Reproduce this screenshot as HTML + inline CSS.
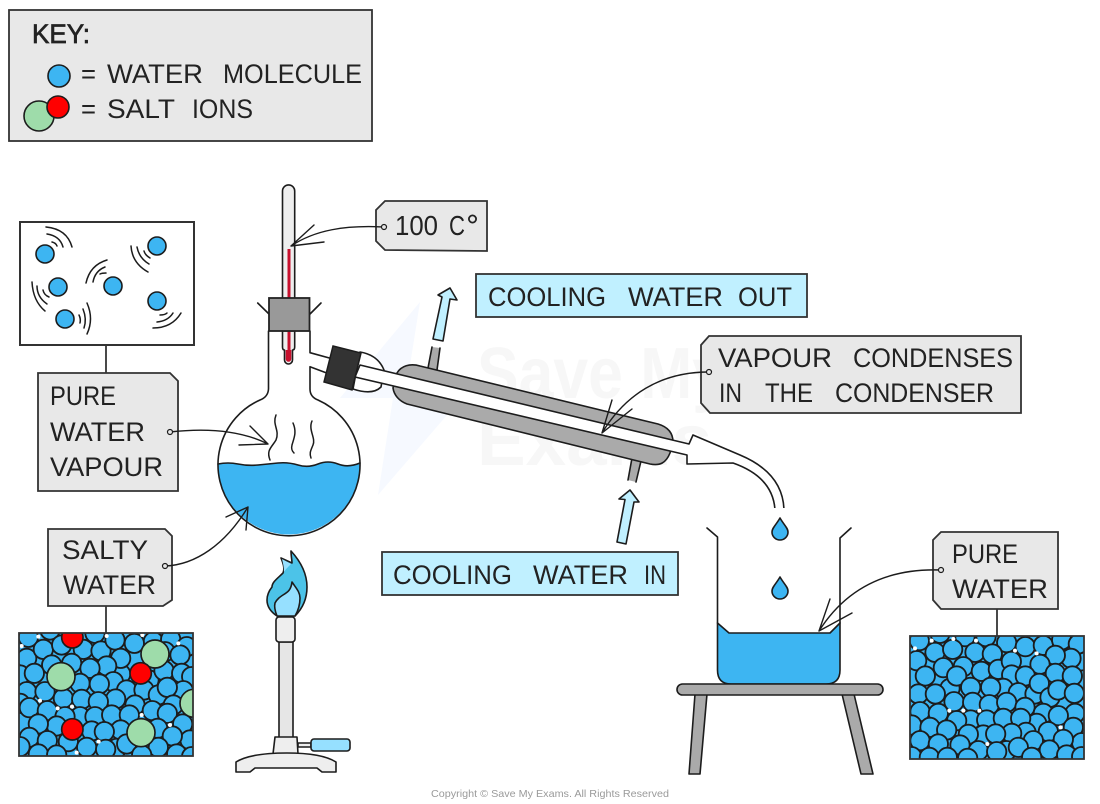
<!DOCTYPE html>
<html><head><meta charset="utf-8"><style>
html,body{margin:0;padding:0;background:#fff}
svg{display:block}
text{font-family:"Liberation Sans",sans-serif;font-size:27px;fill:#222}
.b{fill:#3db5f2;stroke:#1c1c1c;stroke-width:5.5;r:29px}
.s{stroke:#1c1c1c;stroke-width:1.6;fill:none;stroke-linejoin:round;stroke-linecap:round}
.f{stroke:#1c1c1c;stroke-width:1.6;stroke-linejoin:round}
.tag{fill:#e8e8e8;stroke:#333;stroke-width:1.8}
.cy{fill:#c0f0ff;stroke:#333;stroke-width:1.8}
.m{fill:#3db5f2;stroke:#1c1c1c;stroke-width:1.6}
.w{stroke:#1c1c1c;stroke-width:1.5;fill:none;stroke-linecap:round}
</style></head><body>
<svg width="1100" height="804" viewBox="0 0 1100 804" xmlns="http://www.w3.org/2000/svg">
<defs>
<clipPath id="c1"><rect x="57" y="99" width="523" height="369"/></clipPath>
<clipPath id="c2"><rect x="30" y="48" width="522" height="369"/></clipPath>
</defs>
<rect width="1100" height="804" fill="#fff"/>

<!-- watermark -->
<polygon points="420,302 340,398 393,398 378,495 460,400 405,397" fill="#f6f9ff"/>
<text x="477" y="398" textLength="250" lengthAdjust="spacingAndGlyphs" style="font-size:72px;font-weight:bold;fill:#f7f7f7">Save My</text>
<text x="477" y="465" textLength="235" lengthAdjust="spacingAndGlyphs" style="font-size:72px;font-weight:bold;fill:#f7f7f7">Exams</text>

<!-- key -->
<rect x="9" y="10" width="363" height="131" class="tag"/>
<text x="32" y="43" textLength="58" lengthAdjust="spacingAndGlyphs" style="stroke:#222;stroke-width:.7">KEY:</text>
<circle cx="59" cy="76" r="11" class="m"/>
<circle cx="39" cy="116" r="15" fill="#9edcaa" stroke="#1c1c1c" stroke-width="1.6"/>
<circle cx="58" cy="107" r="11" fill="#f00" stroke="#1c1c1c" stroke-width="1.6"/>
<text x="81" y="83" textLength="15" lengthAdjust="spacingAndGlyphs">=</text>
<text x="107" y="83" textLength="96" lengthAdjust="spacingAndGlyphs">WATER</text>
<text x="223" y="83" textLength="139" lengthAdjust="spacingAndGlyphs">MOLECULE</text>
<text x="81" y="118" textLength="15" lengthAdjust="spacingAndGlyphs">=</text>
<text x="107" y="118" textLength="68" lengthAdjust="spacingAndGlyphs">SALT</text>
<text x="192" y="118" textLength="61" lengthAdjust="spacingAndGlyphs">IONS</text>

<!-- vapour box -->
<line x1="106" y1="345" x2="106" y2="373" class="s"/>
<rect x="20" y="222" width="174" height="123" fill="#fff" stroke="#333" stroke-width="2"/>
<circle cx="45" cy="254" r="9" class="m"/><circle cx="157" cy="246" r="9" class="m"/>
<circle cx="58" cy="287" r="9" class="m"/><circle cx="113" cy="286" r="9" class="m"/>
<circle cx="157" cy="301" r="9" class="m"/><circle cx="65" cy="319" r="9" class="m"/>
<path class="w" d="M52,242 Q56,243 57,246 M47,234 Q60,236 63,247 M46,227 Q67,229 72,247"/>
<path class="w" d="M144,251 Q145,255 150,258 M137,247 Q139,258 149,264 M131,246 Q132,263 148,272"/>
<path class="w" d="M43,290 Q44,295 49,297 M37,286 Q37,297 47,304 M32,282 Q33,301 45,311"/>
<path class="w" d="M100,274 Q102,273 106,273 M93,282 Q95,271 105,267 M86,283 Q90,265 107,260"/>
<path class="w" d="M160,315 Q165,315 167,313 M157,322 Q168,321 173,313 M153,328 Q172,328 181,313"/>
<path class="w" d="M79,315 Q81,319 80,323 M83,309 Q87,319 84,328 M87,303 Q94,319 87,334"/>

<!-- salty molecules -->
<line x1="106" y1="606" x2="106" y2="633" class="s"/>
<g transform="translate(0,600) scale(.33333)" clip-path="url(#c1)">
<rect x="57" y="99" width="523" height="369" fill="#3db5f2"/>
<circle class="b" cx="85" cy="112" r="27"/><circle class="b" cx="150" cy="90" r="27"/><circle class="b" cx="80" cy="175" r="27"/><circle class="b" cx="130" cy="148" r="27"/><circle class="b" cx="185" cy="135" r="27"/><circle class="b" cx="250" cy="148" r="27"/><circle class="b" cx="285" cy="100" r="27"/><circle class="b" cx="303" cy="153" r="27"/><circle class="b" cx="345" cy="120" r="27"/><circle class="b" cx="460" cy="125" r="27"/><circle class="b" cx="403" cy="130" r="27"/><circle class="b" cx="512" cy="118" r="27"/><circle class="b" cx="560" cy="140" r="27"/><circle class="b" cx="495" cy="155" r="27"/><circle class="b" cx="540" cy="165" r="27"/><circle class="b" cx="215" cy="190" r="27"/><circle class="b" cx="155" cy="195" r="27"/><circle class="b" cx="362" cy="222" r="27"/><circle class="b" cx="362" cy="175" r="27"/><circle class="b" cx="320" cy="198" r="27"/><circle class="b" cx="270" cy="205" r="27"/><circle class="b" cx="60" cy="225" r="27"/><circle class="b" cx="103" cy="220" r="27"/><circle class="b" cx="240" cy="250" r="27"/><circle class="b" cx="340" cy="245" r="27"/><circle class="b" cx="298" cy="252" r="27"/><circle class="b" cx="380" cy="270" r="27"/><circle class="b" cx="447" cy="240" r="27"/><circle class="b" cx="432" cy="270" r="27"/><circle class="b" cx="492" cy="212" r="27"/><circle class="b" cx="545" cy="220" r="27"/><circle class="b" cx="575" cy="230" r="27"/><circle class="b" cx="475" cy="285" r="27"/><circle class="b" cx="550" cy="272" r="27"/><circle class="b" cx="502" cy="262" r="27"/><circle class="b" cx="80" cy="275" r="27"/><circle class="b" cx="135" cy="275" r="27"/><circle class="b" cx="190" cy="295" r="27"/><circle class="b" cx="245" cy="298" r="27"/><circle class="b" cx="347" cy="297" r="27"/><circle class="b" cx="295" cy="305" r="27"/><circle class="b" cx="60" cy="310" r="27"/><circle class="b" cx="88" cy="323" r="27"/><circle class="b" cx="142" cy="332" r="27"/><circle class="b" cx="520" cy="315" r="27"/><circle class="b" cx="405" cy="315" r="27"/><circle class="b" cx="457" cy="332" r="27"/><circle class="b" cx="502" cy="340" r="27"/><circle class="b" cx="240" cy="350" r="27"/><circle class="b" cx="195" cy="350" r="27"/><circle class="b" cx="285" cy="350" r="27"/><circle class="b" cx="335" cy="345" r="27"/><circle class="b" cx="388" cy="345" r="27"/><circle class="b" cx="170" cy="378" r="27"/><circle class="b" cx="115" cy="372" r="27"/><circle class="b" cx="548" cy="372" r="27"/><circle class="b" cx="473" cy="385" r="27"/><circle class="b" cx="362" cy="390" r="27"/><circle class="b" cx="275" cy="393" r="27"/><circle class="b" cx="313" cy="395" r="27"/><circle class="b" cx="205" cy="425" r="27"/><circle class="b" cx="570" cy="420" r="27"/><circle class="b" cx="517" cy="408" r="27"/><circle class="b" cx="88" cy="412" r="27"/><circle class="b" cx="142" cy="422" r="27"/><circle class="b" cx="60" cy="440" r="27"/><circle class="b" cx="350" cy="445" r="27"/><circle class="b" cx="380" cy="432" r="27"/><circle class="b" cx="260" cy="442" r="27"/><circle class="b" cx="317" cy="448" r="27"/><circle class="b" cx="475" cy="442" r="27"/><circle class="b" cx="425" cy="465" r="27"/><circle class="b" cx="530" cy="462" r="27"/><circle class="b" cx="115" cy="462" r="27"/><circle class="b" cx="170" cy="465" r="27"/><circle class="b" cx="575" cy="470" r="27"/>
<g fill="#fff"><circle cx="115" cy="110" r="6"/><circle cx="65" cy="138" r="6"/><circle cx="245" cy="108" r="6"/><circle cx="320" cy="108" r="6"/><circle cx="427" cy="105" r="6"/><circle cx="535" cy="130" r="6"/><circle cx="120" cy="302" r="6"/><circle cx="216" cy="320" r="6"/><circle cx="173" cy="325" r="6"/><circle cx="425" cy="345" r="6"/><circle cx="510" cy="375" r="6"/><circle cx="230" cy="458" r="6"/><circle cx="296" cy="425" r="6"/></g>
<circle cx="183" cy="230" r="42" fill="#9edcaa" stroke="#1c1c1c" stroke-width="5"/>
<circle cx="465" cy="162" r="42" fill="#9edcaa" stroke="#1c1c1c" stroke-width="5"/>
<circle cx="582" cy="310" r="42" fill="#9edcaa" stroke="#1c1c1c" stroke-width="5"/>
<circle cx="423" cy="398" r="42" fill="#9edcaa" stroke="#1c1c1c" stroke-width="5"/>
<circle cx="217" cy="112" r="32" fill="#f00" stroke="#1c1c1c" stroke-width="5"/>
<circle cx="422" cy="220" r="32" fill="#f00" stroke="#1c1c1c" stroke-width="5"/>
<circle cx="217" cy="388" r="32" fill="#f00" stroke="#1c1c1c" stroke-width="5"/>
</g>
<rect x="19" y="633" width="174" height="123" fill="none" stroke="#333" stroke-width="1.8"/>

<!-- pure molecules -->
<line x1="997" y1="609" x2="997" y2="636" class="s"/>
<g transform="translate(900,620) scale(.33333)" clip-path="url(#c2)">
<rect x="30" y="48" width="522" height="369" fill="#3db5f2"/>
<circle class="b" cx="58" cy="62" r="27"/><circle class="b" cx="120" cy="40" r="27"/><circle class="b" cx="195" cy="50" r="27"/><circle class="b" cx="258" cy="50" r="27"/><circle class="b" cx="320" cy="68" r="27"/><circle class="b" cx="376" cy="80" r="27"/><circle class="b" cx="430" cy="76" r="27"/><circle class="b" cx="485" cy="60" r="27"/><circle class="b" cx="535" cy="72" r="27"/><circle class="b" cx="50" cy="122" r="27"/><circle class="b" cx="105" cy="97" r="27"/><circle class="b" cx="158" cy="88" r="27"/><circle class="b" cx="225" cy="97" r="27"/><circle class="b" cx="277" cy="102" r="27"/><circle class="b" cx="513" cy="115" r="27"/><circle class="b" cx="466" cy="106" r="27"/><circle class="b" cx="190" cy="140" r="27"/><circle class="b" cx="130" cy="143" r="27"/><circle class="b" cx="244" cy="154" r="27"/><circle class="b" cx="295" cy="148" r="27"/><circle class="b" cx="334" cy="124" r="27"/><circle class="b" cx="420" cy="133" r="27"/><circle class="b" cx="550" cy="180" r="27"/><circle class="b" cx="335" cy="165" r="27"/><circle class="b" cx="376" cy="168" r="27"/><circle class="b" cx="466" cy="160" r="27"/><circle class="b" cx="517" cy="168" r="27"/><circle class="b" cx="76" cy="168" r="27"/><circle class="b" cx="150" cy="205" r="27"/><circle class="b" cx="170" cy="168" r="27"/><circle class="b" cx="212" cy="202" r="27"/><circle class="b" cx="310" cy="205" r="27"/><circle class="b" cx="272" cy="202" r="27"/><circle class="b" cx="355" cy="218" r="27"/><circle class="b" cx="405" cy="222" r="27"/><circle class="b" cx="418" cy="190" r="27"/><circle class="b" cx="450" cy="232" r="27"/><circle class="b" cx="474" cy="210" r="27"/><circle class="b" cx="523" cy="220" r="27"/><circle class="b" cx="55" cy="222" r="27"/><circle class="b" cx="106" cy="222" r="27"/><circle class="b" cx="162" cy="245" r="27"/><circle class="b" cx="218" cy="247" r="27"/><circle class="b" cx="268" cy="254" r="27"/><circle class="b" cx="320" cy="247" r="27"/><circle class="b" cx="375" cy="262" r="27"/><circle class="b" cx="430" cy="280" r="27"/><circle class="b" cx="525" cy="280" r="27"/><circle class="b" cx="475" cy="287" r="27"/><circle class="b" cx="60" cy="275" r="27"/><circle class="b" cx="115" cy="280" r="27"/><circle class="b" cx="35" cy="315" r="27"/><circle class="b" cx="212" cy="300" r="27"/><circle class="b" cx="260" cy="300" r="27"/><circle class="b" cx="170" cy="302" r="27"/><circle class="b" cx="310" cy="295" r="27"/><circle class="b" cx="410" cy="310" r="27"/><circle class="b" cx="362" cy="295" r="27"/><circle class="b" cx="90" cy="322" r="27"/><circle class="b" cx="140" cy="330" r="27"/><circle class="b" cx="520" cy="322" r="27"/><circle class="b" cx="250" cy="345" r="27"/><circle class="b" cx="378" cy="337" r="27"/><circle class="b" cx="335" cy="340" r="27"/><circle class="b" cx="205" cy="343" r="27"/><circle class="b" cx="287" cy="342" r="27"/><circle class="b" cx="445" cy="335" r="27"/><circle class="b" cx="545" cy="368" r="27"/><circle class="b" cx="490" cy="358" r="27"/><circle class="b" cx="400" cy="362" r="27"/><circle class="b" cx="180" cy="375" r="27"/><circle class="b" cx="60" cy="362" r="27"/><circle class="b" cx="115" cy="372" r="27"/><circle class="b" cx="320" cy="392" r="27"/><circle class="b" cx="235" cy="392" r="27"/><circle class="b" cx="290" cy="395" r="27"/><circle class="b" cx="355" cy="382" r="27"/><circle class="b" cx="448" cy="390" r="27"/><circle class="b" cx="35" cy="410" r="27"/><circle class="b" cx="88" cy="412" r="27"/><circle class="b" cx="142" cy="412" r="27"/><circle class="b" cx="203" cy="415" r="27"/><circle class="b" cx="395" cy="412" r="27"/><circle class="b" cx="500" cy="405" r="27"/><circle class="b" cx="545" cy="410" r="27"/>
<g fill="#fff"><circle cx="95" cy="62" r="6"/><circle cx="160" cy="57" r="6"/><circle cx="228" cy="62" r="6"/><circle cx="345" cy="92" r="6"/><circle cx="410" cy="100" r="6"/><circle cx="45" cy="85" r="6"/><circle cx="190" cy="272" r="6"/><circle cx="238" cy="272" r="6"/><circle cx="148" cy="272" r="6"/><circle cx="482" cy="322" r="6"/><circle cx="262" cy="372" r="6"/></g>
</g>
<rect x="910" y="636" width="174" height="123" fill="none" stroke="#333" stroke-width="1.8"/>

<!-- thermometer -->
<path class="f" fill="#eee" d="M282.5,340 V191 A6,6 0 0 1 294.7,191 V340 Z"/>
<rect x="287.5" y="249" width="3" height="50" fill="#c8102e"/>

<!-- flask -->
<path fill="#fff" d="M268.5,331 V389 Q268,397 260,400 A71,71 0 1 0 318,400 Q310,397 310,389 V331 Z"/>
<path fill="#3db5f2" d="M218,464 Q228,462 238,464 T258,465 T278,463 T298,465 T318,464 T338,464 T360,463 A71,71 0 0 1 218,464 Z"/>
<path class="s" d="M218,464 Q228,462 238,464 T258,465 T278,463 T298,465 T318,464 T338,464 T360,463"/>
<path class="s" d="M268.5,331 V389 Q268,397 260,400 A71,71 0 1 0 318,400 Q310,397 310,389 V366.7 L326,372.7 M310,331 V352.7 L333,359"/>
<path class="w" d="M276,415 C272,425 280,430 276,440 C272,447 266,450 270,460"/>
<path class="w" d="M293,423 C297,432 294,438 292,445 C291,449 292,451 294,453"/>
<path class="w" d="M312,421 C308,430 316,438 313,445 C311,450 309,453 311,458"/>

<!-- thermometer lower -->
<path class="f" fill="#eee" d="M282.5,331 V347 Q282.5,350 284.5,350 V360 A4,4 0 0 0 292.5,360 V350 Q294.7,350 294.7,347 V331 Z"/>
<rect x="287.5" y="331" width="3" height="20" fill="#c8102e"/>
<path d="M285.7,350 H291.3 V359 A2.8,2.8 0 0 1 285.7,359 Z" fill="#c8102e"/>
<path class="s" d="M257.7,303 L269,314 M321,303 L310,314"/>
<rect x="269" y="298" width="40.5" height="33" fill="#999" stroke="#222" stroke-width="1.8"/>

<!-- adapter bulb -->
<path class="f" fill="#fff" d="M360,352 C372,354 380,360 384,370 L381,387 C375,393 365,393 353,389 Z"/>

<!-- condenser jacket -->
<path fill="#aaa" d="M428,368 L432,347 L440,348 L437,370 Z"/>
<path class="s" d="M428,368 L432,347 M437,370 L440,348"/>
<path fill="#aaa" d="M632,458 L628,480 L636,482 L641,461 Z"/>
<path class="s" d="M632,458 L628,480 M641,461 L636,482"/>
<path class="f" fill="#aaa" d="M397,373 C401,366 410,363 420,366 L658,424 C668,427 673,433 673,442 L670,453 C666,463 660,466 650,464 L407,404 C399,401 394,395 393,388 Z"/>

<!-- tube -->
<path class="f" fill="#fff" d="M360,365 L689,444 L693,435 L740,455 Q783,473 784,510 L775,510 Q773,477 733,463 L687,464 L687,455 L355,377 Z"/>
<rect x="773" y="508" width="14" height="6" fill="#fff"/>
<polygon points="333,346 361,353 352,390 324,382" fill="#333" stroke="#1c1c1c" stroke-width="1.5"/>

<!-- cyan arrows -->
<polygon class="f" fill="#c0f0ff" points="450,288 438,295 442,297 433,339 443,341 450,299 457,300"/>
<polygon class="f" fill="#c0f0ff" points="630,490 619,499 625,499.5 617,542 626,544 634,502 639,502"/>

<!-- cyan labels -->
<rect x="476" y="274" width="331" height="43" class="cy"/>
<text x="488" y="306" textLength="118" lengthAdjust="spacingAndGlyphs">COOLING</text>
<text x="628" y="306" textLength="95" lengthAdjust="spacingAndGlyphs">WATER</text>
<text x="738" y="306" textLength="54" lengthAdjust="spacingAndGlyphs">OUT</text>
<rect x="382" y="552" width="296" height="43" class="cy"/>
<text x="393" y="584" textLength="119" lengthAdjust="spacingAndGlyphs">COOLING</text>
<text x="533" y="584" textLength="95" lengthAdjust="spacingAndGlyphs">WATER</text>
<text x="644" y="584" textLength="22" lengthAdjust="spacingAndGlyphs">IN</text>

<!-- burner -->
<path class="f" fill="#4cc3e8" d="M295,616 C303,608 307,598 307,587 C307,575 302,563 291,551 C291,556 292,560 292,563 L281,558 C283,563 285,568 283,573 C278,578 272,582 272,587 C268,592 267,596 267,600 C267,607 271,612 277,616 Z"/>
<path class="s" d="M292,582 C296,588 300,592 300,598 C300,605 298,611 295,616 H277 C275,611 274,607 275,603 C277,599 280,597 283,595 C288,592 291,590 292,582 Z" style="fill:#96e0ff"/>
<path d="M282,559 L291,564 C288,567 285,570 284,572 C284,567 283,563 282,559 Z" fill="#96e0ff"/>
<rect x="279" y="642" width="14" height="96" class="f" fill="#e6e6e6"/>
<rect x="276" y="617" width="19" height="25" rx="3" class="f" fill="#eee"/>
<path class="f" fill="#eee" d="M298,743 H311 V747 H298 Z"/>
<rect x="311" y="739" width="39" height="12" rx="3" class="f" fill="#96e0ff"/>
<path class="f" fill="#eee" d="M273,754 L275,737 H297 L298,754 Z"/>
<path class="f" fill="#eee" d="M236,772 V762 Q250,753 287,753 Q322,753 336,762 V772 H322 L317,768 H255 L250,772 Z"/>

<!-- beaker -->
<path fill="#3db5f2" d="M717.5,623 L729,633 H830 L840,623 V670 Q840,684 826,684 H731 Q717.5,684 717.5,670 Z"/>
<path class="s" d="M717.5,623 L729,633 H830 L840,623"/>
<path class="s" d="M707,528 L717.5,537 V670 Q717.5,684 731,684 H826 Q840,684 840,670 V538 L851,528"/>
<path class="f" fill="#3db5f2" d="M780,518 C784,525 788,528 788,532 A8,8 0 0 1 772,532 C772,528 776,525 780,518 Z"/>
<path class="f" fill="#3db5f2" d="M780,577 C784,584 788,587 788,591 A8,8 0 0 1 772,591 C772,587 776,584 780,577 Z"/>

<!-- tripod -->
<polygon class="f" fill="#aaa" points="695,694 707,694 700,774 689,774"/>
<polygon class="f" fill="#aaa" points="842,694 854,694 873,774 861,774"/>
<rect x="677" y="684" width="206" height="11" rx="5.5" class="f" fill="#aaa"/>

<!-- tags -->
<polygon class="tag" points="38,373 170,373 178,381 178,491 38,491"/>
<text x="50" y="405" textLength="66" lengthAdjust="spacingAndGlyphs">PURE</text>
<text x="50" y="441" textLength="95" lengthAdjust="spacingAndGlyphs">WATER</text>
<text x="50" y="476" textLength="113" lengthAdjust="spacingAndGlyphs">VAPOUR</text>
<polygon class="tag" points="48,529 165,529 172,536 172,600 163,606 48,606"/>
<text x="62" y="559" textLength="86" lengthAdjust="spacingAndGlyphs">SALTY</text>
<text x="63" y="594" textLength="93" lengthAdjust="spacingAndGlyphs">WATER</text>
<polygon class="tag" points="376,210 385,201 487,201 487,251 385,250 376,241"/>
<text x="395" y="235" textLength="43" lengthAdjust="spacingAndGlyphs" style="font-size:28px">100</text>
<text x="449" y="235" textLength="16" lengthAdjust="spacingAndGlyphs" style="font-size:28px">C</text>
<circle cx="472.5" cy="219" r="3.6" fill="none" stroke="#222" stroke-width="1.8"/>
<polygon class="tag" points="709,336 1021,336 1021,413 710,413 701,403 701,345"/>
<text x="718" y="367" textLength="114" lengthAdjust="spacingAndGlyphs">VAPOUR</text>
<text x="853" y="367" textLength="160" lengthAdjust="spacingAndGlyphs">CONDENSES</text>
<text x="719" y="402" textLength="23" lengthAdjust="spacingAndGlyphs">IN</text>
<text x="765" y="402" textLength="48" lengthAdjust="spacingAndGlyphs">THE</text>
<text x="835" y="402" textLength="159" lengthAdjust="spacingAndGlyphs">CONDENSER</text>
<polygon class="tag" points="941,532 1058,532 1058,609 941,609 933,600 933,540"/>
<text x="952" y="563" textLength="66" lengthAdjust="spacingAndGlyphs">PURE</text>
<text x="952" y="598" textLength="96" lengthAdjust="spacingAndGlyphs">WATER</text>

<!-- pointers -->
<g class="s" style="stroke-width:1.4">
<path d="M170,432 C205,428 240,430 268,444 M250,426 L268,444 L239,445"/>
<path d="M165,566 C195,565 225,545 248,507 M226,517 L248,507 L246,530"/>
<path d="M384,227 C345,225 315,230 291,246 M314,225 L291,246 L324,242"/>
<path d="M709,372 C660,372 625,395 602,433 M612,400 L602,433 L632,409"/>
<path d="M941,570 C885,568 845,590 819,631 M830,599 L819,631 L852,613"/>
</g>
<g fill="#e8e8e8" stroke="#1c1c1c" stroke-width="1.2">
<circle cx="170" cy="432" r="2.5"/><circle cx="165" cy="566" r="2.5"/><circle cx="384" cy="227" r="2.5"/><circle cx="709" cy="372" r="2.5"/><circle cx="941" cy="570" r="2.5"/>
</g>

<text x="431" y="797" textLength="238" lengthAdjust="spacingAndGlyphs" style="font-size:10.5px;fill:#9a9a9a">Copyright © Save My Exams. All Rights Reserved</text>
</svg>
</body></html>
